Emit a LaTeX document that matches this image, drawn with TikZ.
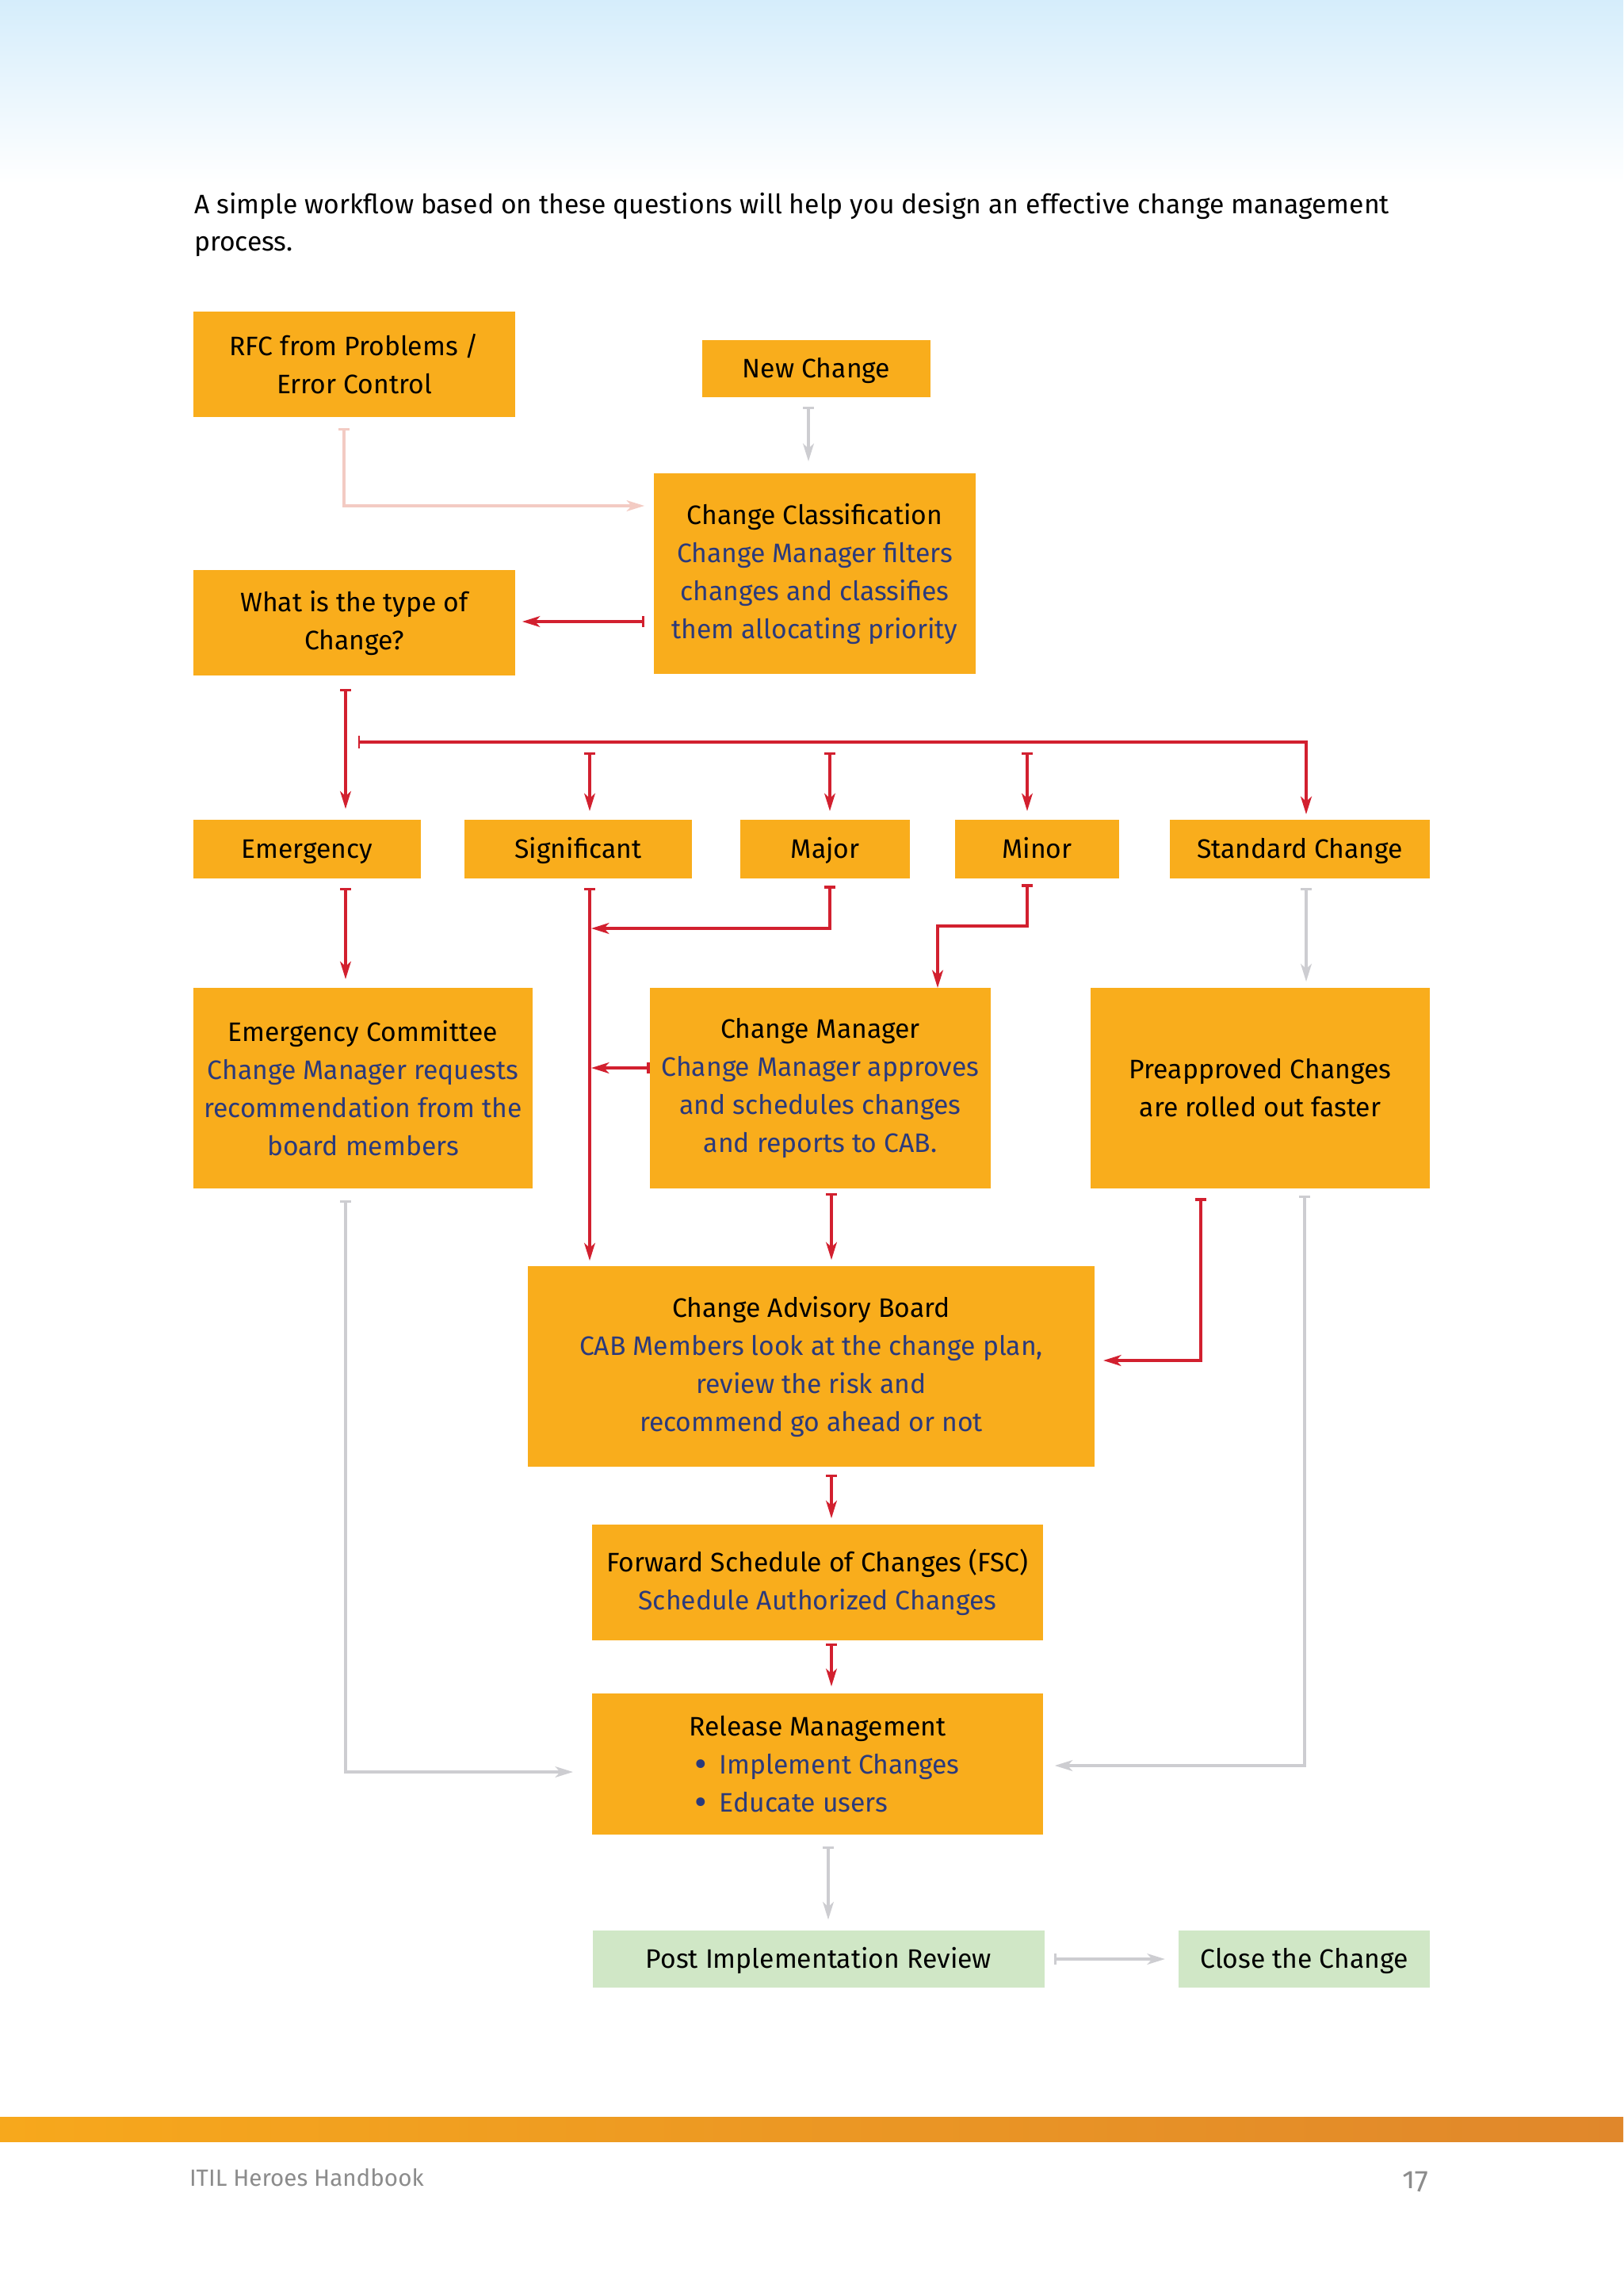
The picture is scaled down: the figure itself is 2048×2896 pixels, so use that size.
\documentclass[tikz,border=0pt]{standalone}
\usepackage{fontspec}
\setmainfont{Fira Sans}
\usetikzlibrary{arrows.meta}
\definecolor{boxor}{HTML}{F9AD1C}
\definecolor{navy}{HTML}{2B3A7C}
\definecolor{redarr}{HTML}{D2202F}
\definecolor{grayarr}{HTML}{CDCDD1}
\definecolor{pinkarr}{HTML}{F3CBC3}
\definecolor{greenbox}{HTML}{D0E7C6}
\definecolor{skyblue}{HTML}{D5EDFB}
\definecolor{footA}{HTML}{F7A81C}
\definecolor{footB}{HTML}{E0872B}
\definecolor{footgray}{HTML}{8C8C8C}
\newcommand\dsc[1]{\textcolor{navy}{#1}}
\newcommand\bul{\raisebox{-1.2pt}[0pt][0pt]{\fontsize{14}{14}\selectfont\textbullet}}
\begin{document}
\begin{tikzpicture}[x=0.29066pt,y=-0.29066pt,
  every node/.style={inner sep=0pt,outer sep=0pt},
  bx/.style 2 args={fill=boxor, minimum width=#1*0.29066pt, minimum height=#2*0.29066pt,
     align=center, font=\fontsize{9.8}{13.95}\selectfont, execute at begin node={\rule{0pt}{8.9pt}}},
  sbx/.style 2 args={bx={#1}{#2}, text height=7pt, text depth=0.6pt},
  gbx/.style 2 args={sbx={#1}{#2}, fill=greenbox},
  conn/.style={line width=0.9pt, {Bar[width=3.8pt]}-{Stealth[length=6.5pt,width=4pt,inset=1.8pt]}},
  redline/.style={conn, draw=redarr, color=redarr},
  grayline/.style={conn, draw=grayarr, color=grayarr},
  pinkline/.style={conn, draw=pinkarr, color=pinkarr},
]
\useasboundingbox (0,0) rectangle (2048,2896);
\fill[white] (0,0) rectangle (2048,2896);
\shade[top color=skyblue, bottom color=white] (0,0) rectangle (2048,232);
\shade[left color=footA, right color=footB] (0,2670) rectangle (2048,2701);

\node[anchor=base west, align=left, font=\fontsize{9.8}{13.6}\selectfont] (intro) at (245,316)
  {A simple workflow based on these questions will help you design an effective change management\\process.};

% boxes
\node[bx={406}{133}] (rfc) at (447,459.5) {RFC from Problems /\\Error Control};
\node[sbx={288}{72}] (new) at (1030,465) {New Change};
\node[bx={406}{253}] (cc) at (1028,723.5) {Change Classification\\\dsc{Change Manager filters}\\\dsc{changes and classifies}\\\dsc{them allocating priority}};
\node[bx={406}{133}] (what) at (447,785.5) {What is the type of\\Change?};

\node[sbx={287}{74}] (emerg) at (387.5,1071) {Emergency};
\node[sbx={287}{74}] (sig) at (729.5,1071) {Significant};
\node[sbx={214}{74}] (major) at (1041,1071) {Major};
\node[sbx={207}{74}] (minor) at (1308.5,1071) {Minor};
\node[sbx={328}{74}] (std) at (1640,1071) {Standard Change};

\node[bx={428}{253}] (ec) at (458,1372.5) {Emergency Committee\\\dsc{Change Manager requests}\\\dsc{recommendation from the}\\\dsc{board members}};
\node[bx={430}{253}] (cm) at (1035,1372.5) {Change Manager\\\dsc{Change Manager approves}\\\dsc{and schedules changes}\\\dsc{and reports to CAB.}};
\node[bx={428}{253}] (pre) at (1590,1372.5) {Preapproved Changes\\are rolled out faster};

\node[bx={715}{253}] (cab) at (1023.5,1723.5) {Change Advisory Board\\\dsc{CAB Members look at the change plan,}\\\dsc{review the risk and}\\\dsc{recommend go ahead or not}};
\node[bx={569}{146}] (fsc) at (1031.5,1996) {Forward Schedule of Changes (FSC)\\\dsc{Schedule Authorized Changes}};
\node[bx={569}{178}] (rel) at (1031.5,2225) {\makebox[165.4pt][c]{Release Management}\\
  \makebox[165.4pt][l]{\hspace*{37.5pt}\dsc{\makebox[9.3pt][l]{\bul}Implement Changes}}\\
  \makebox[165.4pt][l]{\hspace*{37.5pt}\dsc{\makebox[9.3pt][l]{\bul}Educate users}}};
\node[gbx={570}{72}] (pir) at (1033,2471) {Post Implementation Review};
\node[gbx={317}{72}] (close) at (1645.5,2471) {Close the Change};

% footer text
\node[anchor=base west, font=\fontsize{8.6}{11}\selectfont, text=footgray] (foot) at (239,2757) {ITIL Heroes Handbook};
\node[anchor=base east, font=\fontsize{11}{13}\selectfont\addfontfeatures{Numbers=OldStyle}, text=footgray] (page) at (1802,2760) {17};

% free-end coordinates
\coordinate (hb) at (452,936);
\coordinate (sgt) at (744,949);
\coordinate (mjt) at (1047,949);
\coordinate (mnt) at (1296,949);
\coordinate (sigA) at (746,1171);
\coordinate (sigB) at (746,1347);

% connectors
\draw[pinkline, shorten <=4.1pt, shorten >=3.5pt] (rfc.south -| 434,0) |- (cc.west |- 0,638);
\draw[grayline, shorten <=3.5pt, shorten >=4.4pt] (new.south -| 1020,0) -- (cc.north -| 1020,0);
\draw[redline, shorten <=3.5pt, shorten >=2.6pt] (cc.west |- 0,784) -- (what.east |- 0,784);
\draw[redline, shorten <=4.9pt, shorten >=4pt] (what.south -| 436,0) -- (emerg.north -| 436,0);
\draw[redline, line width=1.3pt, {Bar[width=4.6pt,line width=0.7pt]}-{Stealth[length=6.5pt,width=4pt,inset=1.8pt]}, shorten >=2pt] (hb) -| (std.north -| 1648,0);
\draw[redline, shorten >=3.2pt] (sgt) -- (sig.north -| sgt);
\draw[redline, shorten >=3.2pt] (mjt) -- (major.north -| mjt);
\draw[redline, shorten >=3.2pt] (mnt) -- (minor.north -| mnt);

\draw[redline, shorten <=3.5pt, shorten >=3.2pt] (emerg.south -| 436,0) -- (ec.north -| 436,0);
\draw[redline, shorten <=3.5pt, shorten >=2pt] (sig.south -| 744,0) -- (cab.north -| 744,0);
\draw[redline, line width=1.1pt, shorten <=2.6pt] (major.south -| 1047,0) |- (sigA);
\draw[redline, line width=1.1pt, shorten <=2pt] (minor.south -| 1296,0) -- (1296,1168) -| (cm.north -| 1183,0);
\draw[grayline, shorten <=3.5pt, shorten >=2.3pt] (std.south -| 1648,0) -- (pre.north -| 1648,0);
\draw[redline, line width=1.1pt] (cm.west |- 0,1347) -- (sigB);
\draw[redline, shorten <=1.7pt, shorten >=2.3pt] (cm.south -| 1049,0) -- (cab.north -| 1049,0);
\draw[redline, line width=1.1pt, shorten <=3.5pt, shorten >=3.2pt] (pre.south -| 1515,0) |- (cab.east |- 0,1716);
\draw[grayline, shorten <=2.6pt, shorten >=4.3pt] (pre.south -| 1646,0) |- (rel.east |- 0,2227);
\draw[grayline, shorten <=4.4pt, shorten >=7pt] (ec.south -| 436,0) |- (rel.west |- 0,2235);
\draw[redline, shorten <=2.9pt, shorten >=2.3pt] (cab.south -| 1049,0) -- (fsc.north -| 1049,0);
\draw[redline, shorten <=1.2pt, shorten >=2.6pt] (fsc.south -| 1049,0) -- (rel.north -| 1049,0);
\draw[grayline, shorten <=4.4pt, shorten >=4pt] (rel.south -| 1045,0) -- (pir.north -| 1045,0);
\draw[grayline, shorten <=3.5pt, shorten >=5pt] (pir.east) -- (close.west);
\end{tikzpicture}
\end{document}
